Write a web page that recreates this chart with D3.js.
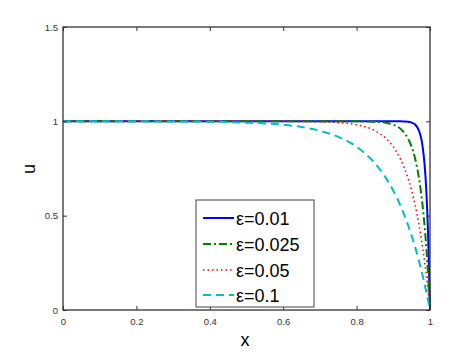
<!DOCTYPE html>
<html><head><meta charset="utf-8">
<script src="https://cdn.jsdelivr.net/npm/d3@7"></script>
<style>body{margin:0;background:#fff}svg{display:block}</style>
</head><body>
<svg id="c" width="474" height="353"></svg>
<script>
const xTicks = [0, 0.2, 0.4, 0.6, 0.8, 1];
const yTicks = [0, 0.5, 1, 1.5];
const seriesNames = ["ε=0.01", "ε=0.025", "ε=0.05", "ε=0.1"];
const xs = [0, 0.1, 0.2, 0.3, 0.4, 0.5, 0.55, 0.6, 0.65, 0.7, 0.75, 0.8, 0.85, 0.88, 0.9, 0.92, 0.93, 0.94, 0.95, 0.96, 0.97, 0.975, 0.98, 0.985, 0.99, 0.995, 1];
const u001 = [1, 1, 1, 1, 1, 1, 1, 1, 1, 1, 1, 1, 1, 1, 1, 1, 0.999, 0.998, 0.993, 0.982, 0.95, 0.918, 0.865, 0.777, 0.632, 0.39, 0];
const u0025 = [1, 1, 1, 1, 1, 1, 1, 1, 1, 1, 1, 1, 0.998, 0.992, 0.982, 0.96, 0.939, 0.909, 0.865, 0.798, 0.699, 0.632, 0.551, 0.451, 0.33, 0.181, 0];
const u005 = [1, 1, 1, 1, 1, 1, 1, 1, 0.999, 0.998, 0.993, 0.982, 0.95, 0.909, 0.865, 0.798, 0.753, 0.699, 0.632, 0.551, 0.451, 0.393, 0.33, 0.259, 0.181, 0.095, 0];
const u01 = [1, 1, 1, 0.999, 0.998, 0.993, 0.989, 0.982, 0.97, 0.95, 0.918, 0.865, 0.777, 0.699, 0.632, 0.551, 0.503, 0.451, 0.393, 0.33, 0.259, 0.221, 0.181, 0.139, 0.095, 0.049, 0];
const seriesValues = [u001, u0025, u005, u01];

const colors = ["#0000ff", "#008000", "#ff0000", "#00bfbf"];
const dashes = [null, "8,3,2,3", "1.5,3", "8,5"];
const widths = [2, 2, 1.5, 2];

const svg = d3.select("#c");
const L = 63, R = 430, T = 27, B = 310;
const x = d3.scaleLinear().domain([0, 1]).range([L, R]);
const y = d3.scaleLinear().domain([0, 1.5]).range([B, T]);

const axisColor = "#333";
const tickFont = "Liberation Sans, Arial, sans-serif";

// curves
const line = d3.line().x(d => x(d[0])).y(d => y(d[1])).curve(d3.curveMonotoneX);
const g = svg.append("g");
seriesValues.forEach((vals, i) => {
  g.append("path")
    .datum(xs.map((xv, j) => [xv, vals[j]]))
    .attr("d", line)
    .attr("fill", "none")
    .attr("stroke", colors[i])
    .attr("stroke-width", widths[i])
    .attr("stroke-dasharray", dashes[i]);
});

// box
svg.append("rect").attr("x", L).attr("y", T).attr("width", R - L).attr("height", B - T)
  .attr("fill", "none").attr("stroke", axisColor).attr("stroke-width", 1.3);

// axes
const xAxis = d3.axisBottom(x).tickValues(xTicks).tickSize(-4).tickPadding(8).tickFormat(d3.format("~g"));
const gx = svg.append("g").attr("transform", `translate(0,${B})`).call(xAxis);
const yAxis = d3.axisLeft(y).tickValues(yTicks).tickSize(-4).tickPadding(5).tickFormat(d3.format("~g"));
const gy = svg.append("g").attr("transform", `translate(${L},0)`).call(yAxis);
const gxt = svg.append("g").attr("transform", `translate(0,${T})`).call(d3.axisTop(x).tickValues(xTicks).tickSize(-4).tickFormat(""));
const gyr = svg.append("g").attr("transform", `translate(${R},0)`).call(d3.axisRight(y).tickValues(yTicks).tickSize(-4).tickFormat(""));
[gx, gy, gxt, gyr].forEach(a => {
  a.select(".domain").remove();
  a.selectAll("line").attr("stroke", axisColor);
  a.selectAll("text").attr("fill", "#333").style("font-family", tickFont).style("font-size", "9.5px");
});

// axis labels
svg.append("text").attr("x", 245).attr("y", 346).attr("text-anchor", "middle")
  .style("font-family", tickFont).style("font-size", "18px").text("x");
svg.append("text").attr("transform", "translate(35,169) rotate(-90)").attr("text-anchor", "middle")
  .style("font-family", tickFont).style("font-size", "18px").text("u");

// legend
const lg = svg.append("g");
lg.append("rect").attr("x", 196).attr("y", 200).attr("width", 118).attr("height", 107)
  .attr("fill", "#fff").attr("stroke", "#444").attr("stroke-width", 1);
const rowY = [218, 244, 270, 295];
seriesNames.forEach((name, i) => {
  lg.append("line").attr("x1", 203).attr("x2", 234).attr("y1", rowY[i]).attr("y2", rowY[i])
    .attr("stroke", colors[i]).attr("stroke-width", widths[i]).attr("stroke-dasharray", dashes[i]);
  lg.append("text").attr("x", 236).attr("y", rowY[i] + 6.5)
    .style("font-family", tickFont).style("font-size", "18px").text(name);
});
</script>
</body></html>
